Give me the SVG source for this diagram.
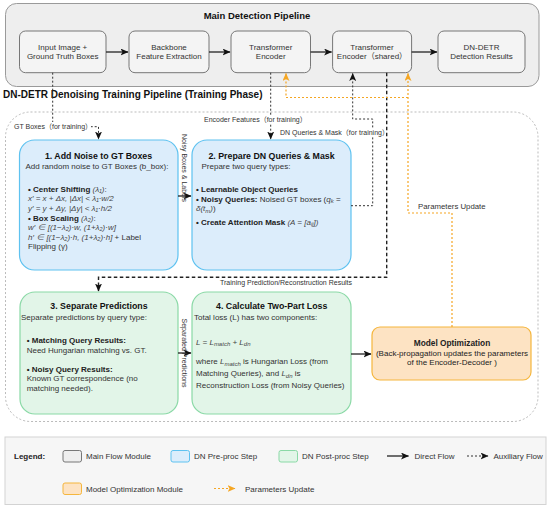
<svg xmlns="http://www.w3.org/2000/svg" width="550" height="506" viewBox="0 0 550 506">
<defs>
<marker id="ab" markerUnits="userSpaceOnUse" markerWidth="8" markerHeight="7" refX="7.5" refY="3.5" orient="auto"><path d="M0,0 L8,3.5 L0,7 L2,3.5 z" fill="#111"/></marker>
<marker id="ao" markerUnits="userSpaceOnUse" markerWidth="8" markerHeight="7" refX="7.5" refY="3.5" orient="auto"><path d="M0,0 L8,3.5 L0,7 L2,3.5 z" fill="#f5a623"/></marker>
<style>
text{font-family:"Liberation Sans",Arial,"Noto Sans CJK SC",sans-serif;fill:#333;font-size:8px}
.t{font-weight:bold;fill:#111;font-size:8.8px;text-anchor:middle}
.c{text-anchor:middle}
.b{font-weight:bold;fill:#222}
.i{font-style:italic;fill:#444}
.lb{font-size:7px;fill:#333}
.mainbox{fill:#f4f4f4;stroke:#777;stroke-width:1}
.blue{fill:#dcedfb;stroke:#5ec2f0;stroke-width:1.2}
.green{fill:#e2f5e8;stroke:#8ad9a6;stroke-width:1.2}
.orange{fill:#fde3c3;stroke:#f5b63d;stroke-width:1.2}
.solid{fill:none;stroke:#222;stroke-width:1.3}
.dot{fill:none;stroke:#333;stroke-width:1;stroke-dasharray:2,2}
.dash{fill:none;stroke:#222;stroke-width:1.4;stroke-dasharray:3.5,2.5}
.od{fill:none;stroke:#f5a623;stroke-width:1.2;stroke-dasharray:2,2}
</style>
</defs>

<g id="main-pipeline">
<rect x="5.5" y="3.5" width="533.5" height="83" rx="11" fill="#eeeeee" stroke="#9a9a9a"/>
<text x="257" y="19" class="c" style="font-weight:bold;font-size:9.5px;fill:#111">Main Detection Pipeline</text>
</g>

<g id="n-input"><rect class="mainbox" x="19.5" y="31" width="86.5" height="41.7" rx="6"/><text x="62.7" y="49.5" class="c">Input Image +</text><text x="62.7" y="59" class="c">Ground Truth Boxes</text></g>
<g id="n-backbone"><rect class="mainbox" x="129" y="31" width="80" height="41.7" rx="6"/><text x="169" y="49.5" class="c">Backbone</text><text x="169" y="59" class="c">Feature Extraction</text></g>
<g id="n-encoder"><rect class="mainbox" x="231" y="31" width="79.5" height="41.7" rx="6"/><text x="270.7" y="49.5" class="c">Transformer</text><text x="270.7" y="59" class="c">Encoder</text></g>
<g id="n-encoder-shared"><rect class="mainbox" x="332.6" y="31" width="79" height="41.7" rx="6"/><text x="372" y="49.5" class="c">Transformer</text><text x="372" y="59" class="c">Encoder（shared）</text></g>
<g id="n-results"><rect class="mainbox" x="438" y="31" width="87" height="41.7" rx="6"/><text x="481.5" y="49.5" class="c">DN-DETR</text><text x="481.5" y="59" class="c">Detection Results</text></g>

<g id="training-container">
<text x="3" y="98" style="font-weight:bold;font-size:10px;fill:#111">DN-DETR Denoising Training Pipeline (Training Phase)</text>
<rect x="5.5" y="112" width="532.5" height="309.5" rx="25" fill="none" stroke="#bbb" stroke-dasharray="2,2"/>
</g>

<g id="n-step1">
<rect class="blue" x="19.5" y="140" width="158.5" height="130" rx="15"/>
<text x="98.5" y="158.7" class="t">1. Add Noise to GT Boxes</text>
<text x="97" y="169" class="c">Add random noise to GT Boxes (b_box):</text>
<text x="28" y="192"><tspan class="b">• Center Shifting </tspan><tspan class="i">(λ₁)</tspan>:</text>
<text x="28" y="201" class="i">x′ = x + Δx, |Δx| &lt; λ₁·w/2</text>
<text x="28" y="210.5" class="i">y′ = y + Δy, |Δy| &lt; λ₁·h/2</text>
<text x="28" y="220.5"><tspan class="b">• Box Scaling </tspan><tspan class="i">(λ₂)</tspan>:</text>
<text x="28" y="230" class="i">w′ ∈ [(1−λ₂)·w, (1+λ₂)·w]</text>
<text x="28" y="239.5"><tspan class="i">h′ ∈ [(1−λ₂)·h, (1+λ₂)·h]</tspan> + Label</text>
<text x="28" y="249">Flipping (γ)</text>
</g>

<g id="n-step2">
<rect class="blue" x="192" y="140" width="159" height="130" rx="15"/>
<text x="271.5" y="158.5" class="t">2. Prepare DN Queries &amp; Mask</text>
<text x="201.5" y="168.7">Prepare two query types:</text>
<text x="196" y="192" class="b">• Learnable Object Queries</text>
<text x="196" y="201.5"><tspan class="b">• Noisy Queries: </tspan>Noised GT boxes (<tspan class="i">q</tspan><tspan class="i" dy="1.5" font-size="6">k</tspan><tspan dy="-1.5"> =</tspan></text>
<text x="196" y="211"><tspan class="i">δ(t</tspan><tspan class="i" dy="1.5" font-size="6">m</tspan><tspan class="i" dy="-1.5">)</tspan>)</text>
<text x="196" y="224.5"><tspan class="b">• Create Attention Mask </tspan><tspan class="i">(A = [a</tspan><tspan class="i" dy="1.5" font-size="6">ij</tspan><tspan class="i" dy="-1.5">])</tspan></text>
</g>

<g id="n-step3">
<rect class="green" x="20" y="292" width="158" height="122" rx="15"/>
<text x="99" y="309" class="t">3. Separate Predictions</text>
<text x="21" y="320.3">Separate predictions by query type:</text>
<text x="26.7" y="343.3" class="b">• Matching Query Results:</text>
<text x="26.7" y="353">Need Hungarian matching vs. GT.</text>
<text x="26.7" y="372" class="b">• Noisy Query Results:</text>
<text x="26.7" y="381.3">Known GT correspondence (no</text>
<text x="26.7" y="390.7">matching needed).</text>
</g>

<g id="n-step4">
<rect class="green" x="192" y="292" width="159" height="122" rx="15"/>
<text x="271.7" y="309" class="t">4. Calculate Two-Part Loss</text>
<text x="194" y="320.3">Total loss (L) has two components:</text>
<text x="196" y="344.5" class="i">L = L<tspan dy="1.8" font-size="6">match</tspan><tspan dy="-1.8"> + L</tspan><tspan dy="1.8" font-size="6">dn</tspan></text>
<text x="196" y="364">where <tspan class="i">L</tspan><tspan class="i" dy="1.8" font-size="6">match</tspan><tspan dy="-1.8"> is Hungarian Loss (from</tspan></text>
<text x="196" y="376.3">Matching Queries), and <tspan class="i">L</tspan><tspan class="i" dy="1.8" font-size="6">dn</tspan><tspan dy="-1.8"> is</tspan></text>
<text x="196" y="388">Reconstruction Loss (from Noisy Queries)</text>
</g>

<g id="n-optimization">
<rect class="orange" x="372" y="327" width="159" height="53" rx="8"/>
<text x="452" y="346" class="c b" style="font-size:8.3px">Model Optimization</text>
<text x="452" y="355.5" class="c" style="fill:#222">(Back-propagation updates the parameters</text>
<text x="452" y="365" class="c" style="fill:#222">of the Encoder-Decoder )</text>
</g>

<g id="connectors">
<path class="solid" d="M106,52 H128" marker-end="url(#ab)"/>
<path class="solid" d="M209,52 H230" marker-end="url(#ab)"/>
<path class="solid" d="M310.5,52 H331.6" marker-end="url(#ab)" stroke="#444"/>
<path class="solid" d="M411.6,52 H437" marker-end="url(#ab)" stroke="#444"/>

<path class="dot" d="M52.7,72.7 V126.7 H98.5 V139" marker-end="url(#ab)" stroke="#555"/>
<rect x="13" y="122" width="78" height="9" fill="#fff"/>
<text x="14" y="129" class="lb">GT Boxes（for training）</text>

<path class="dot" d="M270.7,72.7 V139" marker-end="url(#ab)"/>
<rect x="203" y="115" width="103" height="9" fill="#fff"/>
<text x="204" y="121.8" class="lb">Encoder Features（for training）</text>

<path class="dash" d="M386.7,72.7 V277.3 H98.5 V291" marker-end="url(#ab)"/>
<text x="220" y="284.8" class="lb">Training Prediction/Reconstruction Results</text>

<path class="dot" d="M351,205.7 H372.7 V119 H352.7 V73.5" marker-end="url(#ab)"/>
<rect x="279" y="128.5" width="107" height="8.5" fill="#fff"/>
<text x="280" y="135.3" class="lb">DN Queries &amp; Mask（for training）</text>

<path class="od" d="M452,327 V213 H408 V73.5" marker-end="url(#ao)"/>
<path class="od" d="M408,97.5 H286 V73.5" marker-end="url(#ao)"/>
<text x="418" y="208.8" style="font-size:7.8px;fill:#333">Parameters Update</text>

<path class="solid" d="M178,196 H191" marker-end="url(#ab)"/>
<text transform="translate(182,168) rotate(90)" class="lb c">Noisy Boxes &amp; Labels</text>

<path class="solid" d="M178,353 H191" marker-end="url(#ab)"/>
<text transform="translate(181.5,353) rotate(90)" class="lb c">Separated Predictions</text>

<path class="solid" d="M351,354 H371" marker-end="url(#ab)" stroke="#555"/>
</g>

<g id="legend">
<rect x="5" y="437" width="541" height="67.5" fill="#f6f6f6" stroke="#d3d3d3"/>
<text x="14" y="459" class="b">Legend:</text>
<rect x="63" y="450.5" width="18.5" height="11.5" rx="2" fill="#eeeeee" stroke="#777"/>
<text x="86" y="459">Main Flow Module</text>
<rect x="171" y="450.5" width="18.5" height="11.5" rx="2" fill="#dcedfb" stroke="#5ec2f0"/>
<text x="194" y="459">DN Pre-proc Step</text>
<rect x="279" y="450.5" width="18.5" height="11.5" rx="2" fill="#e2f5e8" stroke="#8ad9a6"/>
<text x="302" y="459">DN Post-proc Step</text>
<path class="solid" d="M387,456 H408.5" marker-end="url(#ab)"/>
<text x="414.5" y="459">Direct Flow</text>
<path class="dot" d="M467,456 H488" marker-end="url(#ab)"/>
<text x="493.5" y="459">Auxiliary Flow</text>
<rect x="63" y="483" width="18.5" height="11.5" rx="2" fill="#fde3c3" stroke="#f5b63d"/>
<text x="86" y="491.5">Model Optimization Module</text>
<path class="od" d="M214,488.5 H235" marker-end="url(#ao)"/>
<text x="245" y="491.5">Parameters Update</text>
</g>
</svg>
